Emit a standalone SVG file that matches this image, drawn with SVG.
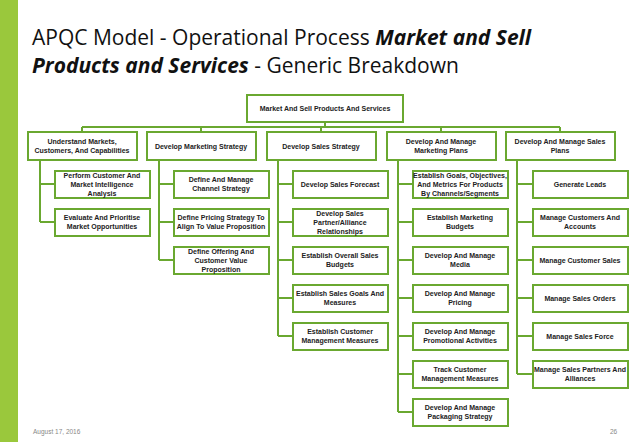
<svg xmlns="http://www.w3.org/2000/svg" width="638" height="442" viewBox="0 0 638 442">
<style>
.b{fill:#fff;stroke:#6aa830;stroke-width:2}
.t{font-family:"Liberation Sans",Arial,sans-serif;font-size:7px;font-weight:bold;fill:#222;text-anchor:middle}
.c{stroke:#6aa830;stroke-width:2;fill:none}
.h{font-family:"Open Sans","Liberation Sans",sans-serif;font-size:21px;fill:#111}
.f{font-family:"Liberation Sans",sans-serif;font-size:6.5px;fill:#888}
</style>
<rect x="0" y="0" width="18" height="442" fill="#9ac83c"/>
<text class="h" x="32" y="45">APQC Model - Operational Process <tspan font-weight="bold" font-style="italic">Market and Sell</tspan></text>
<text class="h" x="32" y="73"><tspan font-weight="bold" font-style="italic">Products and Services</tspan> - Generic Breakdown</text>
<text class="f" x="33" y="434">August 17, 2016</text>
<text class="f" x="610" y="434">26</text>
<g id="connectors">
<path class="c" d="M325 122V127M82 127H560M82 127V132M201 127V132M321 127V132M441 127V132M560 127V132"/>
<path class="c" d="M40 160V222M40 184H55M40 222H55"/>
<path class="c" d="M159 160V260M159 184H174M159 222H174M159 260H174"/>
<path class="c" d="M278 160V336M278 184H293M278 222H293M278 260H293M278 298H293M278 336H293"/>
<path class="c" d="M398 160V412M398 184H413M398 222H413M398 260H413M398 298H413M398 336H413M398 374H413M398 412H413"/>
<path class="c" d="M517 160V374M517 184H533M517 222H533M517 260H533M517 298H533M517 336H533M517 374H533"/>
</g>
<g id="root"><rect class="b" x="247" y="95" width="156" height="27"/><text class="t" x="325" y="111">Market And Sell Products And Services</text></g>
<g id="l1"><rect class="b" x="28" y="132" width="109" height="28"/><text class="t" x="82" y="144">Understand Markets,<tspan x="82" dy="9">Customers, And Capabilities</tspan></text></g>
<g id="l2"><rect class="b" x="147" y="132" width="109" height="28"/><text class="t" x="201" y="149">Develop Marketing Strategy</text></g>
<g id="l3"><rect class="b" x="267" y="132" width="109" height="28"/><text class="t" x="321" y="149">Develop Sales Strategy</text></g>
<g id="l4"><rect class="b" x="387" y="132" width="109" height="28"/><text class="t" x="441" y="144">Develop And Manage<tspan x="441" dy="9">Marketing Plans</tspan></text></g>
<g id="l5"><rect class="b" x="506" y="132" width="109" height="28"/><text class="t" x="560" y="144">Develop And Manage Sales<tspan x="560" dy="9">Plans</tspan></text></g>
<g id="c1a"><rect class="b" x="55" y="171" width="95" height="27"/><text class="t" x="102" y="178">Perform Customer And<tspan x="102" dy="9">Market Intelligence</tspan><tspan x="102" dy="9">Analysis</tspan></text></g>
<g id="c1b"><rect class="b" x="55" y="209" width="95" height="27"/><text class="t" x="102" y="220">Evaluate And Prioritise<tspan x="102" dy="9">Market Opportunities</tspan></text></g>
<g id="c2a"><rect class="b" x="174" y="171" width="95" height="27"/><text class="t" x="221" y="182">Define And Manage<tspan x="221" dy="9">Channel Strategy</tspan></text></g>
<g id="c2b"><rect class="b" x="174" y="209" width="95" height="27"/><text class="t" x="221" y="220">Define Pricing Strategy To<tspan x="221" dy="9">Align To Value Proposition</tspan></text></g>
<g id="c2c"><rect class="b" x="174" y="247" width="95" height="27"/><text class="t" x="221" y="254">Define Offering And<tspan x="221" dy="9">Customer Value</tspan><tspan x="221" dy="9">Proposition</tspan></text></g>
<g id="c3a"><rect class="b" x="293" y="171" width="95" height="27"/><text class="t" x="340" y="187">Develop Sales Forecast</text></g>
<g id="c3b"><rect class="b" x="293" y="209" width="95" height="27"/><text class="t" x="340" y="216">Develop Sales<tspan x="340" dy="9">Partner/Alliance</tspan><tspan x="340" dy="9">Relationships</tspan></text></g>
<g id="c3c"><rect class="b" x="293" y="247" width="95" height="27"/><text class="t" x="340" y="258">Establish Overall Sales<tspan x="340" dy="9">Budgets</tspan></text></g>
<g id="c3d"><rect class="b" x="293" y="285" width="95" height="27"/><text class="t" x="340" y="296">Establish Sales Goals And<tspan x="340" dy="9">Measures</tspan></text></g>
<g id="c3e"><rect class="b" x="293" y="323" width="95" height="27"/><text class="t" x="340" y="334">Establish Customer<tspan x="340" dy="9">Management Measures</tspan></text></g>
<g id="c4a"><rect class="b" x="413" y="171" width="95" height="27"/><text class="t" x="460" y="178">Establish Goals, Objectives,<tspan x="460" dy="9">And Metrics For Products</tspan><tspan x="460" dy="9">By Channels/Segments</tspan></text></g>
<g id="c4b"><rect class="b" x="413" y="209" width="95" height="27"/><text class="t" x="460" y="220">Establish Marketing<tspan x="460" dy="9">Budgets</tspan></text></g>
<g id="c4c"><rect class="b" x="413" y="247" width="95" height="27"/><text class="t" x="460" y="258">Develop And Manage<tspan x="460" dy="9">Media</tspan></text></g>
<g id="c4d"><rect class="b" x="413" y="285" width="95" height="27"/><text class="t" x="460" y="296">Develop And Manage<tspan x="460" dy="9">Pricing</tspan></text></g>
<g id="c4e"><rect class="b" x="413" y="323" width="95" height="27"/><text class="t" x="460" y="334">Develop And Manage<tspan x="460" dy="9">Promotional Activities</tspan></text></g>
<g id="c4f"><rect class="b" x="413" y="361" width="95" height="27"/><text class="t" x="460" y="372">Track Customer<tspan x="460" dy="9">Management Measures</tspan></text></g>
<g id="c4g"><rect class="b" x="413" y="399" width="95" height="27"/><text class="t" x="460" y="410">Develop And Manage<tspan x="460" dy="9">Packaging Strategy</tspan></text></g>
<g id="c5a"><rect class="b" x="533" y="171" width="95" height="27"/><text class="t" x="580" y="187">Generate Leads</text></g>
<g id="c5b"><rect class="b" x="533" y="209" width="95" height="27"/><text class="t" x="580" y="220">Manage Customers And<tspan x="580" dy="9">Accounts</tspan></text></g>
<g id="c5c"><rect class="b" x="533" y="247" width="95" height="27"/><text class="t" x="580" y="263">Manage Customer Sales</text></g>
<g id="c5d"><rect class="b" x="533" y="285" width="95" height="27"/><text class="t" x="580" y="301">Manage Sales Orders</text></g>
<g id="c5e"><rect class="b" x="533" y="323" width="95" height="27"/><text class="t" x="580" y="339">Manage Sales Force</text></g>
<g id="c5f"><rect class="b" x="533" y="361" width="95" height="27"/><text class="t" x="580" y="372">Manage Sales Partners And<tspan x="580" dy="9">Alliances</tspan></text></g>
</svg>
